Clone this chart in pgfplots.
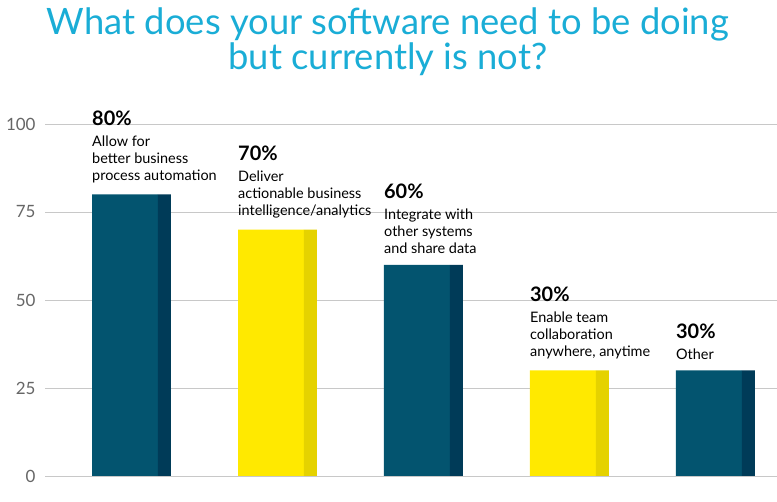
\documentclass[border=0pt]{standalone}
\usepackage{pgfplots}
\pgfplotsset{compat=1.18}
\usepackage{fontspec}
\setmainfont{Lato}
\definecolor{teal}{HTML}{03546F}
\definecolor{tealside}{HTML}{003B58}
\definecolor{yel}{HTML}{FFE900}
\definecolor{yelside}{HTML}{E5D200}
\definecolor{titlecol}{HTML}{1AADD6}
\definecolor{gridcol}{HTML}{C8C8C8}
\definecolor{tickcol}{HTML}{666666}
\begin{document}
\begin{tikzpicture}
\path[use as bounding box] (0,0) rectangle (777bp,502bp);
\node[anchor=north, align=center, text=titlecol, inner sep=0, font=\fontsize{36.5}{33}\selectfont] at (388bp,494bp) {What does your software need to be doing\\but currently is not?};
\begin{axis}[
  at={(45bp,26bp)}, anchor=south west,
  width=732bp, height=352bp, scale only axis,
  xmin=-0.548, xmax=4.466, ymin=0, ymax=100,
  axis line style={draw=none},
  major tick style={draw=none},
  ytick={0,25,50,75,100},
  xtick=\empty,
  ymajorgrids, grid style={gridcol, line width=0.7pt},
  yticklabel style={text=tickcol, font=\fontsize{17}{17}\selectfont, anchor=east, xshift=-6bp},
  /pgf/number format/assume math mode=true,
  clip=false,
]
\addplot[ybar, bar width=0.452, bar shift=0, fill=teal, draw=none] coordinates {(0,80) (2,60) (4,30)};
\addplot[ybar, bar width=0.452, bar shift=0, fill=yel, draw=none] coordinates {(1,70) (3,30)};
\addplot[ybar, bar width=0.089, bar shift=0.27, fill=tealside, draw=none] coordinates {(0,80) (2,60) (4,30)};
\addplot[ybar, bar width=0.089, bar shift=0.27, fill=yelside, draw=none] coordinates {(1,70) (3,30)};
\tikzset{lab/.style={anchor=south west, align=left, inner sep=0, yshift=11bp, font=\fontsize{14.5}{17}\selectfont}}
\newcommand{\pct}[1]{{\fontsize{20}{19}\selectfont\bfseries #1}\\[4bp]}
\node[lab] at (axis cs:-0.226,80) {\pct{80\%}Allow for\\better business\\process automation};
\node[lab] at (axis cs:0.774,70) {\pct{70\%}Deliver\\actionable business\\intelligence/analytics};
\node[lab] at (axis cs:1.774,60) {\pct{60\%}Integrate with\\other systems\\and share data};
\node[lab] at (axis cs:2.774,30) {\pct{30\%}Enable team\\collaboration\\anywhere, anytime};
\node[lab] at (axis cs:3.774,30) {\pct{30\%}Other};
\end{axis}
\end{tikzpicture}
\end{document}
